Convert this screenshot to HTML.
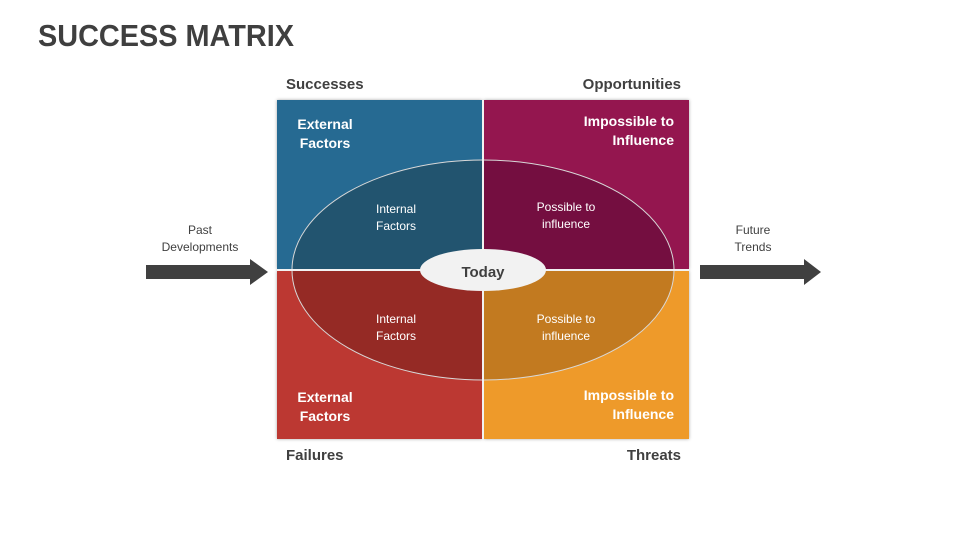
<!DOCTYPE html>
<html><head><meta charset="utf-8"><style>
html,body{margin:0;padding:0;background:#fff;}
body{width:960px;height:540px;overflow:hidden;position:relative;font-family:"Liberation Sans",sans-serif;}
</style></head><body>
<svg width="960" height="540" viewBox="0 0 960 540" xmlns="http://www.w3.org/2000/svg" font-family="Liberation Sans, sans-serif">
<text x="38" y="46" font-size="31" font-weight="bold" fill="#3f3f3f" textLength="256" lengthAdjust="spacingAndGlyphs">SUCCESS MATRIX</text>
<defs>
<filter id="sh" x="-5%" y="-5%" width="110%" height="110%"><feDropShadow dx="0" dy="0" stdDeviation="1.5" flood-color="#000" flood-opacity="0.35"/></filter>
<clipPath id="tl"><rect x="277" y="100" width="206" height="170"/></clipPath>
<clipPath id="tr"><rect x="483" y="100" width="206" height="170"/></clipPath>
<clipPath id="bl"><rect x="277" y="270" width="206" height="170"/></clipPath>
<clipPath id="br"><rect x="483" y="270" width="206" height="170"/></clipPath>
</defs>
<g filter="url(#sh)">
<rect x="277" y="100" width="205" height="169" fill="#286A92"/>
<rect x="484" y="100" width="205" height="169" fill="#94154F"/>
<rect x="277" y="271" width="205" height="168" fill="#BC3830"/>
<rect x="484" y="271" width="205" height="168" fill="#EE9A2A"/>
</g>
<ellipse cx="483" cy="270" rx="191" ry="110" fill="#22546F" clip-path="url(#tl)"/>
<ellipse cx="483" cy="270" rx="191" ry="110" fill="#740E40" clip-path="url(#tr)"/>
<ellipse cx="483" cy="270" rx="191" ry="110" fill="#952A25" clip-path="url(#bl)"/>
<ellipse cx="483" cy="270" rx="191" ry="110" fill="#C27A20" clip-path="url(#br)"/>
<ellipse cx="483" cy="270" rx="191" ry="110" fill="none" stroke="#d8d8d8" stroke-width="1"/>
<line x1="483" y1="100" x2="483" y2="440" stroke="#f2f2f2" stroke-width="2"/>
<line x1="277" y1="270" x2="689" y2="270" stroke="#f2f2f2" stroke-width="2"/>
<ellipse cx="483" cy="270" rx="63" ry="21" fill="#f2f2f2"/>
<text x="483" y="277" font-size="15" font-weight="bold" fill="#404040" text-anchor="middle">Today</text>
<g font-size="14" font-weight="bold" fill="#fff">
<text x="325" y="129" text-anchor="middle">External</text><text x="325" y="148" text-anchor="middle">Factors</text>
<text x="674" y="126" text-anchor="end">Impossible to</text><text x="674" y="145" text-anchor="end">Influence</text>
<text x="325" y="402" text-anchor="middle">External</text><text x="325" y="421" text-anchor="middle">Factors</text>
<text x="674" y="400" text-anchor="end">Impossible to</text><text x="674" y="419" text-anchor="end">Influence</text>
</g>
<g font-size="12" fill="#fff" text-anchor="middle">
<text x="396" y="213">Internal</text><text x="396" y="230">Factors</text>
<text x="566" y="211">Possible to</text><text x="566" y="228">influence</text>
<text x="396" y="323">Internal</text><text x="396" y="340">Factors</text>
<text x="566" y="323">Possible to</text><text x="566" y="340">influence</text>
</g>
<g font-size="15" font-weight="bold" fill="#404040">
<text x="286" y="89">Successes</text>
<text x="681" y="89" text-anchor="end">Opportunities</text>
<text x="286" y="460">Failures</text>
<text x="681" y="460" text-anchor="end">Threats</text>
</g>
<g font-size="12" fill="#404040" text-anchor="middle">
<text x="200" y="234">Past</text><text x="200" y="251">Developments</text>
<text x="753" y="234">Future</text><text x="753" y="251">Trends</text>
</g>
<polygon points="146,265 250,265 250,259 268,272 250,285 250,279 146,279" fill="#404040"/>
<polygon points="700,265 804,265 804,259 821,272 804,285 804,279 700,279" fill="#404040"/>
</svg>
</body></html>
